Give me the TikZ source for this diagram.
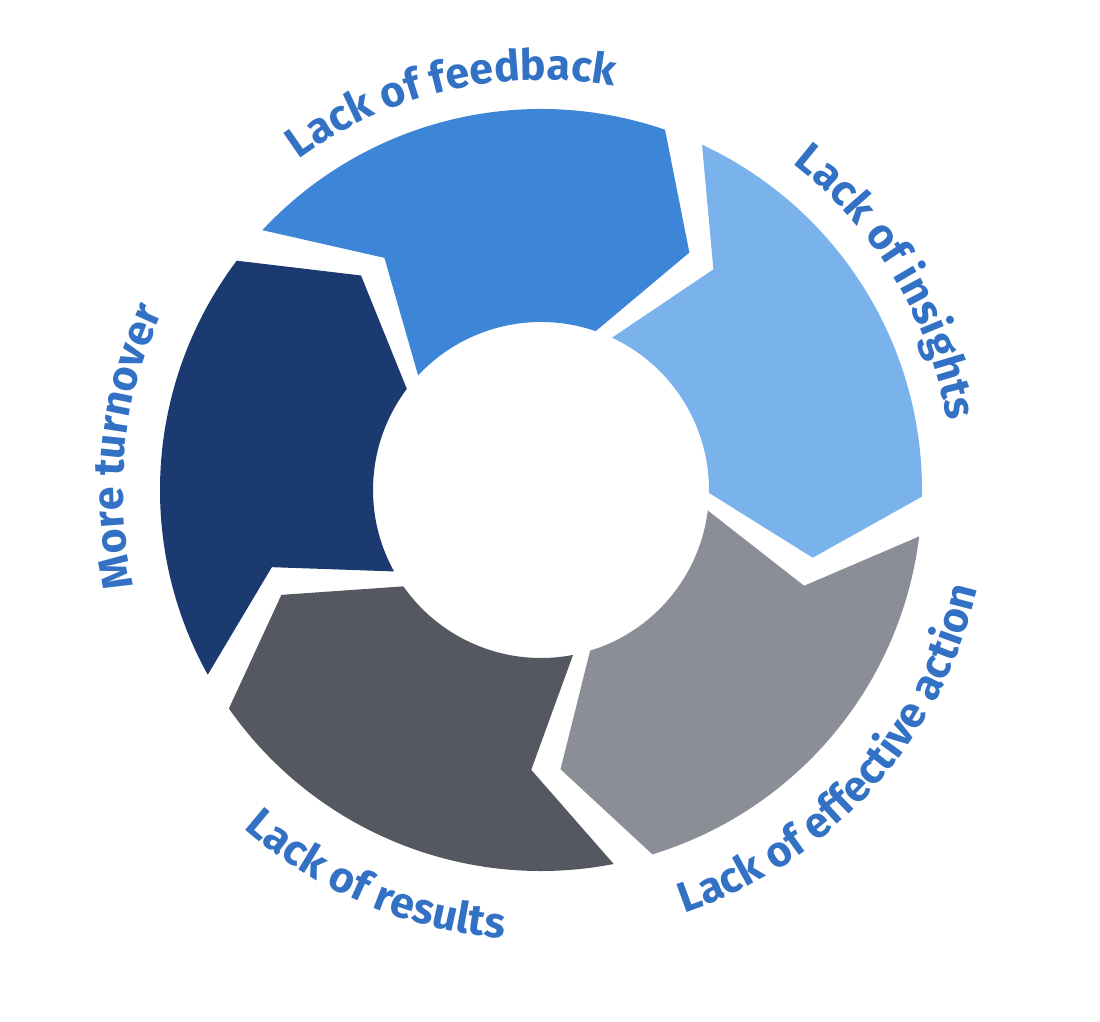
\documentclass[tikz,border=0pt]{standalone}
\usepackage{fontspec}
\setsansfont{Fira Sans}
\usetikzlibrary{decorations.text}
\definecolor{feedbackblue}{HTML}{3D85D6}
\definecolor{insightblue}{HTML}{7AB3EC}
\definecolor{actiongrey}{HTML}{8B8E97}
\definecolor{resultgrey}{HTML}{555861}
\definecolor{turnoverblue}{HTML}{1A3A70}
\definecolor{labelblue}{HTML}{3371C4}
\newcommand{\lbl}{|\sffamily\bfseries\fontsize{43}{43}\selectfont\color{labelblue}|}

\begin{document}
\begin{tikzpicture}[x=1pt, y=1pt]

    % Define styles
    \tikzset{cwlabel/.style={decorate, decoration={text along path, text align=center}}}

    \useasboundingbox (0,0) rectangle (1100,1022);

    \begin{scope}[shift={(541,532)}]
    % Segments
    \foreach \s/\col in {137/feedbackblue, 65/insightblue, -7/actiongrey, -79/resultgrey, -151/turnoverblue}{
        \pgfmathsetmacro{\e}{\s-66}
        \fill[\col] (\s:381) arc[start angle=\s, end angle=\e, radius=381]
            -- (\e-13:280) -- (\e:168)
            arc[start angle=\e, end angle=\s, radius=168]
            -- (\s-13:280) -- cycle;
    }

    % Labels
    \path[cwlabel, decoration={text={\lbl Lack of feedback}}]
        (153:410) arc[start angle=153, end angle=53, radius=410];
    \path[cwlabel, decoration={text={\lbl Lack of insights}}]
        (81:412) arc[start angle=81, end angle=-19, radius=412];
    \path[cwlabel, decoration={text={\lbl More turnover}}]
        (224:418) arc[start angle=224, end angle=124, radius=418];
    \path[cwlabel, decoration={text={\lbl Lack of results}}]
        (-163:450) arc[start angle=-163, end angle=-63, radius=450];
    \path[cwlabel, decoration={text={\lbl Lack of effective action}}]
        (-97:447) arc[start angle=-97, end angle=13, radius=447];
    \end{scope}

\end{tikzpicture}
\end{document}
